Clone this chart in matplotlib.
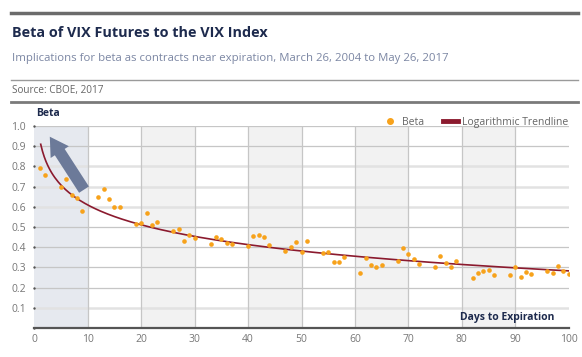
import numpy as np
import matplotlib.pyplot as plt
from matplotlib.lines import Line2D

# data
days = [1, 2, 5, 6, 7, 8, 9, 12, 13, 14, 15, 16, 19, 20, 21, 22, 23, 26, 27, 28, 29, 30,
        33, 34, 35, 36, 37, 40, 41, 42, 43, 44, 47, 48, 49, 50, 51, 54, 55, 56, 57, 58,
        61, 62, 63, 64, 65, 68, 69, 70, 71, 72, 75, 76, 77, 78, 79, 82, 83, 84, 85, 86,
        89, 90, 91, 92, 93, 96, 97, 98, 99, 100]
beta = [0.79, 0.757, 0.70, 0.74, 0.66, 0.645, 0.58, 0.65, 0.69, 0.64, 0.60, 0.60,
        0.515, 0.52, 0.57, 0.51, 0.525, 0.48, 0.49, 0.43, 0.46, 0.445,
        0.415, 0.45, 0.44, 0.42, 0.415, 0.405, 0.457, 0.46, 0.45, 0.41,
        0.383, 0.40, 0.424, 0.378, 0.43, 0.37, 0.375, 0.327, 0.327, 0.35,
        0.272, 0.347, 0.313, 0.30, 0.313, 0.333, 0.396, 0.368, 0.343, 0.317,
        0.30, 0.358, 0.323, 0.30, 0.33, 0.248, 0.272, 0.282, 0.287, 0.264,
        0.264, 0.302, 0.251, 0.277, 0.269, 0.284, 0.272, 0.308, 0.282, 0.266]

y_ticks = [0.1, 0.2, 0.3, 0.4, 0.5, 0.6, 0.7, 0.8, 0.9, 1.0]
x_ticks = [0, 10, 20, 30, 40, 50, 60, 70, 80, 90, 100]

navy = '#1d2a4d'
plt.rcParams['font.family'] = ['Open Sans', 'DejaVu Sans']

fig = plt.figure(figsize=(5.82, 3.57), dpi=100)
W, H = 582, 357

# header
fig.add_artist(Line2D([11/W, 578/W], [1 - 13/H, 1 - 13/H], color='#6b6b6b', lw=2.5))
fig.text(12/W, 1 - 33/H, 'Beta of VIX Futures to the VIX Index', fontsize=10.4,
         fontweight='bold', color=navy, va='center')
fig.text(12/W, 1 - 58/H, 'Implications for beta as contracts near expiration, March 26, 2004 to May 26, 2017',
         fontsize=8.2, color='#7b86a3', va='center')
fig.add_artist(Line2D([11/W, 578/W], [1 - 80/H, 1 - 80/H], color='#9a9a9a', lw=1))
fig.text(12/W, 1 - 91/H, 'Source: CBOE, 2017', fontsize=7.2, color='#666666', va='center')
fig.add_artist(Line2D([11/W, 578/W], [1 - 102/H, 1 - 102/H], color='#7a7a7a', lw=2))

ax = fig.add_axes([34.3/W, 1 - 328/H, (568.7 - 34.3)/W, (328 - 126)/H])

# shaded bands
ax.axvspan(0, 10, color='#e6e9ef', zorder=0, lw=0)
for s in [20, 40, 60, 80]:
    ax.axvspan(s, s + 10, color='#f2f2f2', zorder=0, lw=0)

for y in y_ticks:
    if y in (0.1, 0.6, 0.7, 0.8):
        ax.axhline(y, color='#e2e2e2', lw=1.8, zorder=1)
    else:
        ax.axhline(y, color='#c6c6c6', lw=0.9, zorder=1)
for x in x_ticks[1:-1]:
    ax.axvline(x, color='#c6c6c6', lw=0.9, zorder=1)

# logarithmic trendline fitted to the points
b, a = np.polyfit(np.log(days), beta, 1)
xt = np.linspace(1.2, 100, 300)
ax.plot(xt, a + b * np.log(xt), color='#8b1a2e', lw=1.2, zorder=3)

ax.scatter(days, beta, s=11, color='#f7a21b', zorder=4, lw=0)

ax.annotate('', xy=(2.9, 0.947), xytext=(9.3, 0.685),
            arrowprops=dict(arrowstyle='simple,head_length=1.1,head_width=1.3,tail_width=0.7',
                            color='#6c7a99', lw=0, mutation_scale=12,
                            shrinkA=0, shrinkB=0), zorder=5)

ax.set_xlim(0, 100)
ax.set_ylim(0, 1.0)
ax.set_xticks(x_ticks)
ax.set_yticks([0] + y_ticks)
ax.set_yticklabels([''] + ['%.1f' % v for v in y_ticks])
for sp in ['top', 'right', 'left']:
    ax.spines[sp].set_visible(False)
ax.spines['bottom'].set_color('#555555')
ax.spines['bottom'].set_linewidth(1.6)
ax.tick_params(axis='both', colors='#777777', labelsize=7.5, length=0)
ax.tick_params(axis='y', pad=6)
ax.tick_params(axis='x', pad=4)
# dot tick marks on y axis
ax.scatter([0] * 11, [0] + y_ticks, s=3, color='#555555', clip_on=False, zorder=6, lw=0)

ax.text(0.3, 1.035, 'Beta', fontsize=7.5, fontweight='bold', color=navy,
        transform=ax.get_xaxis_transform(), va='bottom')
ax.text(97.3, 0.052, 'Days to Expiration', fontsize=7.5, fontweight='bold', color=navy,
        ha='right', va='center')

handles = [Line2D([], [], marker='o', ls='', color='#f7a21b', markersize=4),
           Line2D([], [], color='#8b1a2e', lw=3.5)]
ax.legend(handles, ['Beta', 'Logarithmic Trendline'], ncol=2, frameon=False,
          loc='lower right', bbox_to_anchor=(1.0, 0.99), fontsize=7.5,
          labelcolor='#666666', handlelength=1.5, handletextpad=0.4,
          columnspacing=1.8, borderaxespad=0, borderpad=0)

fig.savefig('out.png', dpi=100)
